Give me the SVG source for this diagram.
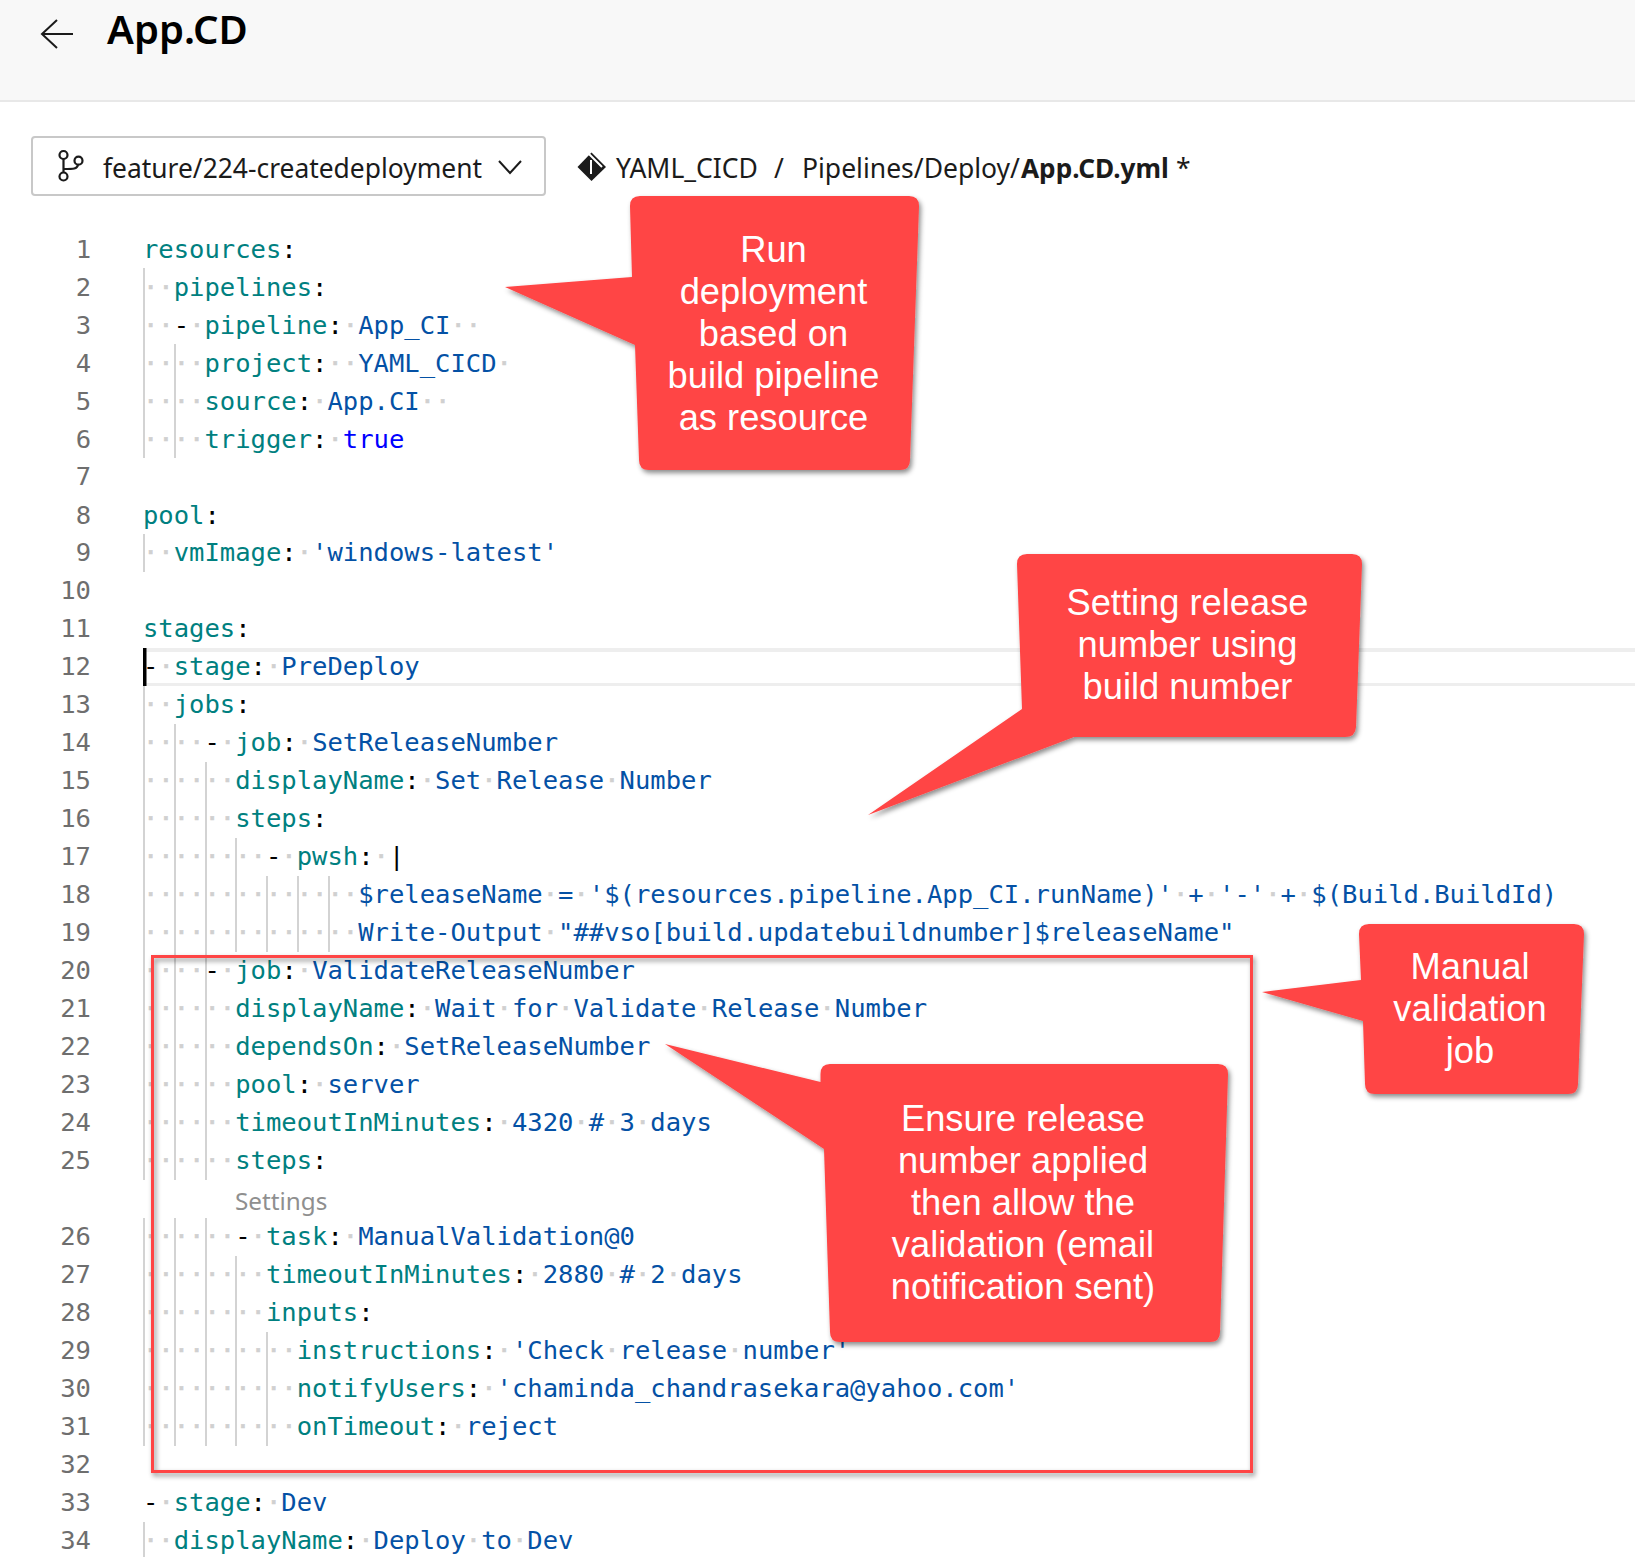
<svg xmlns="http://www.w3.org/2000/svg" width="1635" height="1557" viewBox="0 0 1635 1557">
<style>
.ui{font-family:"Noto Sans","Open Sans",sans-serif;fill:#1b1b1b}
.code text{font-family:"DejaVu Sans Mono",monospace;font-size:25.54px;white-space:pre}
.num{font-family:"DejaVu Sans Mono",monospace;font-size:25.54px;fill:#6e6e6e;text-anchor:end}
.k{fill:#008080}.v{fill:#0451a5}.p{fill:#000}.b{fill:#0000ff}.d{fill:#d0d0d0;stroke:#d0d0d0;stroke-width:.6px}
.call{fill:#ff4444;filter:url(#sh)}
.ct{font-family:"Liberation Sans",Arial,sans-serif;font-size:36.3px;fill:#fff;text-anchor:middle}
</style>
<defs><filter id="sh" x="-20%" y="-20%" width="140%" height="140%"><feDropShadow dx="2" dy="3" stdDeviation="2.5" flood-color="#000" flood-opacity=".45"/></filter></defs>
<rect width="1635" height="1557" fill="#fff"/>
<g id="header">
<rect width="1635" height="100" fill="#f8f8f8"/><rect y="100" width="1635" height="2" fill="#e8e8e8"/>
<path d="M73 34H42M57 20L42 34L57 48" fill="none" stroke="#1b1b1b" stroke-width="2"/>
<text class="ui" x="107" y="44" font-size="40" font-weight="600" style="fill:#000">App.CD</text>
</g>
<g id="branch">
<rect x="32" y="137" width="513" height="58" rx="3" fill="#fff" stroke="#c8c8c8" stroke-width="2"/>
<g fill="none" stroke="#1b1b1b" stroke-width="2.200"><circle cx="63.500" cy="155" r="4"/><circle cx="63.500" cy="176.500" r="4"/><circle cx="78.500" cy="160.700" r="4"/><path d="M63.500 159V172.500M78 165C77 169 74 169 63.500 169"/></g>
<path d="M499 161L510 173L521 161" fill="none" stroke="#1b1b1b" stroke-width="2"/>
<text class="ui" x="103" y="178" font-size="26.400">feature/224-createdeployment</text>
</g>
<g id="path">
<path d="M591.500 152.500L606 167L591.500 181L577.500 167Z" fill="#1b1b1b"/>
<path d="M591 160V174M589 154L602 167" fill="none" stroke="#fff" stroke-width="2"/>
<text class="ui" x="616" y="178" font-size="26.500">YAML_CICD</text>
<text class="ui" x="774" y="178" font-size="26.500">/</text>
<text class="ui" x="802" y="178" font-size="26.500">Pipelines/Deploy/</text>
<text class="ui" x="1021" y="178" font-size="26.200" font-weight="700">App.CD.yml</text>
<text class="ui" x="1176" y="178" font-size="26.500">*</text>
</g>
<g id="current-line"><rect x="143" y="648" width="1492" height="4" fill="#eeeeee"/><rect x="143" y="683" width="1492" height="3" fill="#eeeeee"/></g>
<path id="indent-guides" fill="none" stroke="#d3d3d3" stroke-width="2" d="M144 268V458M144 534V572M144 686V1180M144 1218V1446M144 1522V1557M175 344V458M175 724V1180M175 1218V1446M206 762V1180M206 1218V1446M236 838V952M236 1256V1446M267 876V952M267 1332V1446M298 876V952M329 876V952"/>
<rect id="cursor" x="143" y="648" width="3.500" height="38" fill="#000"/>
<g id="line-numbers">
<text class="num" x="91" y="258">1</text><text class="num" x="91" y="296">2</text><text class="num" x="91" y="334">3</text><text class="num" x="91" y="372">4</text><text class="num" x="91" y="410">5</text><text class="num" x="91" y="448">6</text><text class="num" x="91" y="485">7</text><text class="num" x="91" y="524">8</text><text class="num" x="91" y="561">9</text><text class="num" x="91" y="599">10</text><text class="num" x="91" y="637">11</text><text class="num" x="91" y="675">12</text><text class="num" x="91" y="713">13</text><text class="num" x="91" y="751">14</text><text class="num" x="91" y="789">15</text><text class="num" x="91" y="827">16</text><text class="num" x="91" y="865">17</text><text class="num" x="91" y="903">18</text><text class="num" x="91" y="941">19</text><text class="num" x="91" y="979">20</text><text class="num" x="91" y="1017">21</text><text class="num" x="91" y="1055">22</text><text class="num" x="91" y="1093">23</text><text class="num" x="91" y="1131">24</text><text class="num" x="91" y="1169">25</text><text class="num" x="91" y="1245">26</text><text class="num" x="91" y="1283">27</text><text class="num" x="91" y="1321">28</text><text class="num" x="91" y="1359">29</text><text class="num" x="91" y="1397">30</text><text class="num" x="91" y="1435">31</text><text class="num" x="91" y="1473">32</text><text class="num" x="91" y="1511">33</text><text class="num" x="91" y="1549">34</text>
</g>
<g id="code" class="code" xml:space="preserve">
<text x="143" y="258"><tspan class="k">resources</tspan><tspan class="p">:</tspan></text>
<text x="143" y="296"><tspan class="d">··</tspan><tspan class="k">pipelines</tspan><tspan class="p">:</tspan></text>
<text x="143" y="334"><tspan class="d">··</tspan><tspan class="p">-</tspan><tspan class="d">·</tspan><tspan class="k">pipeline</tspan><tspan class="p">:</tspan><tspan class="d">·</tspan><tspan class="v">App_CI</tspan><tspan class="d">··</tspan></text>
<text x="143" y="372"><tspan class="d">····</tspan><tspan class="k">project</tspan><tspan class="p">:</tspan><tspan class="d">··</tspan><tspan class="v">YAML_CICD</tspan><tspan class="d">·</tspan></text>
<text x="143" y="410"><tspan class="d">····</tspan><tspan class="k">source</tspan><tspan class="p">:</tspan><tspan class="d">·</tspan><tspan class="v">App.CI</tspan><tspan class="d">··</tspan></text>
<text x="143" y="448"><tspan class="d">····</tspan><tspan class="k">trigger</tspan><tspan class="p">:</tspan><tspan class="d">·</tspan><tspan class="b">true</tspan></text>
<text x="143" y="524"><tspan class="k">pool</tspan><tspan class="p">:</tspan></text>
<text x="143" y="561"><tspan class="d">··</tspan><tspan class="k">vmImage</tspan><tspan class="p">:</tspan><tspan class="d">·</tspan><tspan class="v">'windows-latest'</tspan></text>
<text x="143" y="637"><tspan class="k">stages</tspan><tspan class="p">:</tspan></text>
<text x="143" y="675"><tspan class="p">-</tspan><tspan class="d">·</tspan><tspan class="k">stage</tspan><tspan class="p">:</tspan><tspan class="d">·</tspan><tspan class="v">PreDeploy</tspan></text>
<text x="143" y="713"><tspan class="d">··</tspan><tspan class="k">jobs</tspan><tspan class="p">:</tspan></text>
<text x="143" y="751"><tspan class="d">····</tspan><tspan class="p">-</tspan><tspan class="d">·</tspan><tspan class="k">job</tspan><tspan class="p">:</tspan><tspan class="d">·</tspan><tspan class="v">SetReleaseNumber</tspan></text>
<text x="143" y="789"><tspan class="d">······</tspan><tspan class="k">displayName</tspan><tspan class="p">:</tspan><tspan class="d">·</tspan><tspan class="v">Set</tspan><tspan class="d">·</tspan><tspan class="v">Release</tspan><tspan class="d">·</tspan><tspan class="v">Number</tspan></text>
<text x="143" y="827"><tspan class="d">······</tspan><tspan class="k">steps</tspan><tspan class="p">:</tspan></text>
<text x="143" y="865"><tspan class="d">········</tspan><tspan class="p">-</tspan><tspan class="d">·</tspan><tspan class="k">pwsh</tspan><tspan class="p">:</tspan><tspan class="d">·</tspan><tspan class="p">|</tspan></text>
<text x="143" y="903"><tspan class="d">··············</tspan><tspan class="v">$releaseName</tspan><tspan class="d">·</tspan><tspan class="v">=</tspan><tspan class="d">·</tspan><tspan class="v">'$(resources.pipeline.App_CI.runName)'</tspan><tspan class="d">·</tspan><tspan class="v">+</tspan><tspan class="d">·</tspan><tspan class="v">'-'</tspan><tspan class="d">·</tspan><tspan class="v">+</tspan><tspan class="d">·</tspan><tspan class="v">$(Build.BuildId)</tspan></text>
<text x="143" y="941"><tspan class="d">··············</tspan><tspan class="v">Write-Output</tspan><tspan class="d">·</tspan><tspan class="v">"##vso[build.updatebuildnumber]$releaseName"</tspan></text>
<text x="143" y="979"><tspan class="d">····</tspan><tspan class="p">-</tspan><tspan class="d">·</tspan><tspan class="k">job</tspan><tspan class="p">:</tspan><tspan class="d">·</tspan><tspan class="v">ValidateReleaseNumber</tspan></text>
<text x="143" y="1017"><tspan class="d">······</tspan><tspan class="k">displayName</tspan><tspan class="p">:</tspan><tspan class="d">·</tspan><tspan class="v">Wait</tspan><tspan class="d">·</tspan><tspan class="v">for</tspan><tspan class="d">·</tspan><tspan class="v">Validate</tspan><tspan class="d">·</tspan><tspan class="v">Release</tspan><tspan class="d">·</tspan><tspan class="v">Number</tspan></text>
<text x="143" y="1055"><tspan class="d">······</tspan><tspan class="k">dependsOn</tspan><tspan class="p">:</tspan><tspan class="d">·</tspan><tspan class="v">SetReleaseNumber</tspan></text>
<text x="143" y="1093"><tspan class="d">······</tspan><tspan class="k">pool</tspan><tspan class="p">:</tspan><tspan class="d">·</tspan><tspan class="v">server</tspan></text>
<text x="143" y="1131"><tspan class="d">······</tspan><tspan class="k">timeoutInMinutes</tspan><tspan class="p">:</tspan><tspan class="d">·</tspan><tspan class="v">4320</tspan><tspan class="d">·</tspan><tspan class="v">#</tspan><tspan class="d">·</tspan><tspan class="v">3</tspan><tspan class="d">·</tspan><tspan class="v">days</tspan></text>
<text x="143" y="1169"><tspan class="d">······</tspan><tspan class="k">steps</tspan><tspan class="p">:</tspan></text>
<text x="143" y="1245"><tspan class="d">······</tspan><tspan class="p">-</tspan><tspan class="d">·</tspan><tspan class="k">task</tspan><tspan class="p">:</tspan><tspan class="d">·</tspan><tspan class="v">ManualValidation@0</tspan></text>
<text x="143" y="1283"><tspan class="d">········</tspan><tspan class="k">timeoutInMinutes</tspan><tspan class="p">:</tspan><tspan class="d">·</tspan><tspan class="v">2880</tspan><tspan class="d">·</tspan><tspan class="v">#</tspan><tspan class="d">·</tspan><tspan class="v">2</tspan><tspan class="d">·</tspan><tspan class="v">days</tspan></text>
<text x="143" y="1321"><tspan class="d">········</tspan><tspan class="k">inputs</tspan><tspan class="p">:</tspan></text>
<text x="143" y="1359"><tspan class="d">··········</tspan><tspan class="k">instructions</tspan><tspan class="p">:</tspan><tspan class="d">·</tspan><tspan class="v">'Check</tspan><tspan class="d">·</tspan><tspan class="v">release</tspan><tspan class="d">·</tspan><tspan class="v">number'</tspan></text>
<text x="143" y="1397"><tspan class="d">··········</tspan><tspan class="k">notifyUsers</tspan><tspan class="p">:</tspan><tspan class="d">·</tspan><tspan class="v">'chaminda_chandrasekara@yahoo.com'</tspan></text>
<text x="143" y="1435"><tspan class="d">··········</tspan><tspan class="k">onTimeout</tspan><tspan class="p">:</tspan><tspan class="d">·</tspan><tspan class="v">reject</tspan></text>
<text x="143" y="1511"><tspan class="p">-</tspan><tspan class="d">·</tspan><tspan class="k">stage</tspan><tspan class="p">:</tspan><tspan class="d">·</tspan><tspan class="v">Dev</tspan></text>
<text x="143" y="1549"><tspan class="d">··</tspan><tspan class="k">displayName</tspan><tspan class="p">:</tspan><tspan class="d">·</tspan><tspan class="v">Deploy</tspan><tspan class="d">·</tspan><tspan class="v">to</tspan><tspan class="d">·</tspan><tspan class="v">Dev</tspan></text>
</g>
<text id="settings" class="ui" x="235" y="1210" font-size="24.300" style="fill:#8f8f8f">Settings</text>
<rect id="validation-box" x="152.500" y="956.500" width="1099" height="515" fill="none" stroke="#ff4444" stroke-width="3" filter="url(#sh)"/>
<g id="callout-resource">
<path class="call" d="M640 196H909Q919 196 919 206L910 460Q910 470 900 470H649Q639 470 639 460L635 345L505 287L632 277L630 206Q630 196 640 196Z"/>
<text class="ct" x="773.500" y="262">Run</text><text class="ct" x="773.500" y="304">deployment</text><text class="ct" x="773.500" y="346">based on</text><text class="ct" x="773.500" y="388">build pipeline</text><text class="ct" x="773.500" y="430">as resource</text>
</g>
<g id="callout-setting">
<path class="call" d="M1027 554H1352Q1362 554 1362 564L1356 727Q1355.500 737 1345 737H1074L868 815L1022 709L1017 564Q1017 554 1027 554Z"/>
<text class="ct" x="1187.500" y="615">Setting release</text><text class="ct" x="1187.500" y="657">number using</text><text class="ct" x="1187.500" y="699">build number</text>
</g>
<g id="callout-manual">
<path class="call" d="M1369 924H1574Q1584 924 1584 934L1578 1084Q1578 1094 1568 1094H1375Q1365 1094 1365 1084L1363 1021L1262 992L1361 980L1359 934Q1359 924 1369 924Z"/>
<text class="ct" x="1470" y="979">Manual</text><text class="ct" x="1470" y="1021">validation</text><text class="ct" x="1470" y="1063">job</text>
</g>
<g id="callout-ensure">
<path class="call" d="M830 1064H1218Q1228 1064 1228 1074L1220 1332Q1220 1342 1210 1342H840Q830 1342 830 1332L824 1149L665 1044L820.500 1082L820.500 1074Q820.500 1064 830 1064Z"/>
<text class="ct" x="1023" y="1131">Ensure release</text><text class="ct" x="1023" y="1173">number applied</text><text class="ct" x="1023" y="1215">then allow the</text><text class="ct" x="1023" y="1257">validation (email</text><text class="ct" x="1023" y="1299">notification sent)</text>
</g>
</svg>
